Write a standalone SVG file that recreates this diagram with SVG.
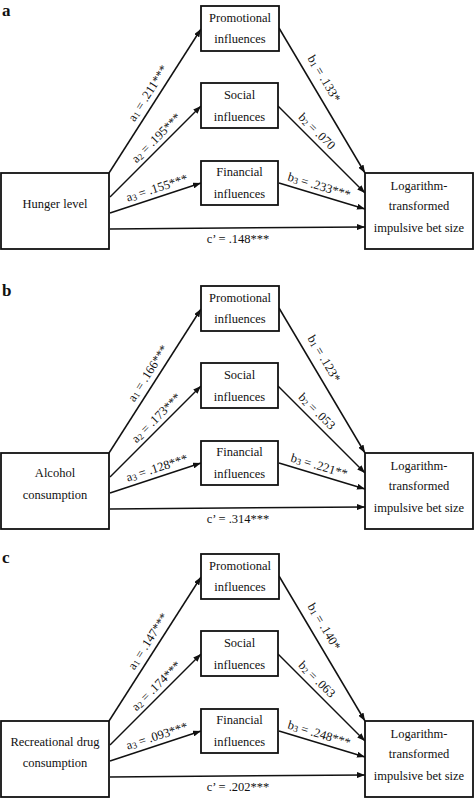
<svg xmlns="http://www.w3.org/2000/svg" width="474" height="799" viewBox="0 0 474 799" font-family="'Liberation Serif', 'Times New Roman', serif">
<style>
text{font-family:"Liberation Serif","Times New Roman",serif;fill:#111;}
.box{fill:#fff;stroke:#111;stroke-width:1.8;}
.t{font-size:12.5px;text-anchor:middle;}
.lbl{font-size:12.5px;text-anchor:middle;}
.s{font-size:9px;}
.pl{font-size:17px;font-weight:bold;}
.c{stroke:#111;stroke-width:1.5;fill:none;marker-end:url(#ah);}
</style>
<defs>
<marker id="ah" markerUnits="userSpaceOnUse" markerWidth="8" markerHeight="6" refX="8" refY="3" orient="auto">
<path d="M0,0 L8,3 L0,6 Z" fill="#111"/>
</marker>
</defs>

<!-- Panel a -->
<g id="panel-a">
<text class="pl" x="2" y="16">a</text>
<g id="a-connectors">
<line class="c" x1="109" y1="173" x2="201" y2="29"/>
<line class="c" x1="110" y1="197" x2="201" y2="106"/>
<line class="c" x1="110" y1="213" x2="201" y2="183"/>
<line class="c" x1="110" y1="229" x2="365" y2="227"/>
<line class="c" x1="279" y1="28" x2="365" y2="173"/>
<line class="c" x1="278" y1="106" x2="365" y2="193"/>
<line class="c" x1="279" y1="183" x2="365" y2="209"/>
<text class="lbl" transform="translate(156.5,98.6) rotate(-57.6)" y="-6">a<tspan class="s" dy="1">1</tspan><tspan dy="-1"> = .211***</tspan></text>
<text class="lbl" transform="translate(162.7,144.3) rotate(-45)" y="-5">a<tspan class="s" dy="1">2</tspan><tspan dy="-1"> = .195***</tspan></text>
<text class="lbl" transform="translate(159.8,196.6) rotate(-18.2)" y="-5">a<tspan class="s" dy="1">3</tspan><tspan dy="-1"> = .155***</tspan></text>
<text class="lbl" x="238" y="243">c’ = .148***</text>
<text class="lbl" transform="translate(312.9,85.2) rotate(59.3)" y="-9">b<tspan class="s" dy="1">1</tspan><tspan dy="-1"> = .133*</tspan></text>
<text class="lbl" transform="translate(309.8,138.5) rotate(44.7)" y="-6">b<tspan class="s" dy="1">2</tspan><tspan dy="-1"> = .070</tspan></text>
<text class="lbl" transform="translate(316.6,194.4) rotate(16.8)" y="-5">b<tspan class="s" dy="1">3</tspan><tspan dy="-1"> = .233***</tspan></text>
</g>
<g id="a-hunger"><rect class="box" x="1" y="173" width="108" height="76"/><text class="t" x="55" y="208">Hunger level</text></g>
<g id="a-promotional"><rect class="box" x="201" y="6" width="78" height="45"/><text class="t" x="240" y="21.5">Promotional</text><text class="t" x="240" y="43">influences</text></g>
<g id="a-social"><rect class="box" x="201" y="83" width="77" height="45"/><text class="t" x="239.5" y="99">Social</text><text class="t" x="239.5" y="121">influences</text></g>
<g id="a-financial"><rect class="box" x="201" y="161" width="77" height="44"/><text class="t" x="239.5" y="176">Financial</text><text class="t" x="239.5" y="198">influences</text></g>
<g id="a-outcome"><rect class="box" x="365" y="173" width="108" height="76"/><text class="t" x="419" y="190">Logarithm-</text><text class="t" x="419" y="210">transformed</text><text class="t" x="419" y="232">impulsive bet size</text></g>
</g>

<!-- Panel b -->
<g id="panel-b" transform="translate(0,280)">
<text class="pl" x="2" y="16">b</text>
<g id="b-connectors">
<line class="c" x1="109" y1="173" x2="201" y2="29"/>
<line class="c" x1="110" y1="197" x2="201" y2="106"/>
<line class="c" x1="110" y1="213" x2="201" y2="183"/>
<line class="c" x1="110" y1="229" x2="365" y2="227"/>
<line class="c" x1="279" y1="28" x2="365" y2="173"/>
<line class="c" x1="278" y1="106" x2="365" y2="193"/>
<line class="c" x1="279" y1="183" x2="365" y2="209"/>
<text class="lbl" transform="translate(156.5,98.6) rotate(-57.6)" y="-6">a<tspan class="s" dy="1">1</tspan><tspan dy="-1"> = .166***</tspan></text>
<text class="lbl" transform="translate(162.7,144.3) rotate(-45)" y="-5">a<tspan class="s" dy="1">2</tspan><tspan dy="-1"> = .173***</tspan></text>
<text class="lbl" transform="translate(159.8,196.6) rotate(-18.2)" y="-5">a<tspan class="s" dy="1">3</tspan><tspan dy="-1"> = .128***</tspan></text>
<text class="lbl" x="238" y="243">c’ = .314***</text>
<text class="lbl" transform="translate(312.9,85.2) rotate(59.3)" y="-9">b<tspan class="s" dy="1">1</tspan><tspan dy="-1"> = .123*</tspan></text>
<text class="lbl" transform="translate(309.8,138.5) rotate(44.7)" y="-6">b<tspan class="s" dy="1">2</tspan><tspan dy="-1"> = .053</tspan></text>
<text class="lbl" transform="translate(316.6,194.4) rotate(16.8)" y="-5">b<tspan class="s" dy="1">3</tspan><tspan dy="-1"> = .221**</tspan></text>
</g>
<g id="b-alcohol"><rect class="box" x="1" y="173" width="108" height="76"/><text class="t" x="55" y="197">Alcohol</text><text class="t" x="55" y="219">consumption</text></g>
<g id="b-promotional"><rect class="box" x="201" y="6" width="78" height="45"/><text class="t" x="240" y="21.5">Promotional</text><text class="t" x="240" y="43">influences</text></g>
<g id="b-social"><rect class="box" x="201" y="83" width="77" height="45"/><text class="t" x="239.5" y="99">Social</text><text class="t" x="239.5" y="121">influences</text></g>
<g id="b-financial"><rect class="box" x="201" y="161" width="77" height="44"/><text class="t" x="239.5" y="176">Financial</text><text class="t" x="239.5" y="198">influences</text></g>
<g id="b-outcome"><rect class="box" x="365" y="173" width="108" height="76"/><text class="t" x="419" y="190">Logarithm-</text><text class="t" x="419" y="210">transformed</text><text class="t" x="419" y="232">impulsive bet size</text></g>
</g>

<!-- Panel c -->
<g id="panel-c" transform="translate(0,548)">
<text class="pl" x="2" y="15">c</text>
<g id="c-connectors">
<line class="c" x1="109" y1="173" x2="201" y2="29"/>
<line class="c" x1="110" y1="197" x2="201" y2="106"/>
<line class="c" x1="110" y1="213" x2="201" y2="183"/>
<line class="c" x1="110" y1="229" x2="365" y2="227"/>
<line class="c" x1="279" y1="28" x2="365" y2="173"/>
<line class="c" x1="278" y1="106" x2="365" y2="193"/>
<line class="c" x1="279" y1="183" x2="365" y2="209"/>
<text class="lbl" transform="translate(156.5,98.6) rotate(-57.6)" y="-6">a<tspan class="s" dy="1">1</tspan><tspan dy="-1"> = .147***</tspan></text>
<text class="lbl" transform="translate(162.7,144.3) rotate(-45)" y="-5">a<tspan class="s" dy="1">2</tspan><tspan dy="-1"> = .174***</tspan></text>
<text class="lbl" transform="translate(159.8,196.6) rotate(-18.2)" y="-5">a<tspan class="s" dy="1">3</tspan><tspan dy="-1"> = .093***</tspan></text>
<text class="lbl" x="238" y="243">c’ = .202***</text>
<text class="lbl" transform="translate(312.9,85.2) rotate(59.3)" y="-9">b<tspan class="s" dy="1">1</tspan><tspan dy="-1"> = .140*</tspan></text>
<text class="lbl" transform="translate(309.8,138.5) rotate(44.7)" y="-6">b<tspan class="s" dy="1">2</tspan><tspan dy="-1"> = .063</tspan></text>
<text class="lbl" transform="translate(316.6,194.4) rotate(16.8)" y="-5">b<tspan class="s" dy="1">3</tspan><tspan dy="-1"> = .248***</tspan></text>
</g>
<g id="c-recreational"><rect class="box" x="1" y="173" width="108" height="76"/><text class="t" x="55" y="198">Recreational drug</text><text class="t" x="55" y="219">consumption</text></g>
<g id="c-promotional"><rect class="box" x="201" y="6" width="78" height="45"/><text class="t" x="240" y="21.5">Promotional</text><text class="t" x="240" y="43">influences</text></g>
<g id="c-social"><rect class="box" x="201" y="83" width="77" height="45"/><text class="t" x="239.5" y="99">Social</text><text class="t" x="239.5" y="121">influences</text></g>
<g id="c-financial"><rect class="box" x="201" y="161" width="77" height="44"/><text class="t" x="239.5" y="176">Financial</text><text class="t" x="239.5" y="198">influences</text></g>
<g id="c-outcome"><rect class="box" x="365" y="173" width="108" height="76"/><text class="t" x="419" y="190">Logarithm-</text><text class="t" x="419" y="210">transformed</text><text class="t" x="419" y="232">impulsive bet size</text></g>
</g>
</svg>
